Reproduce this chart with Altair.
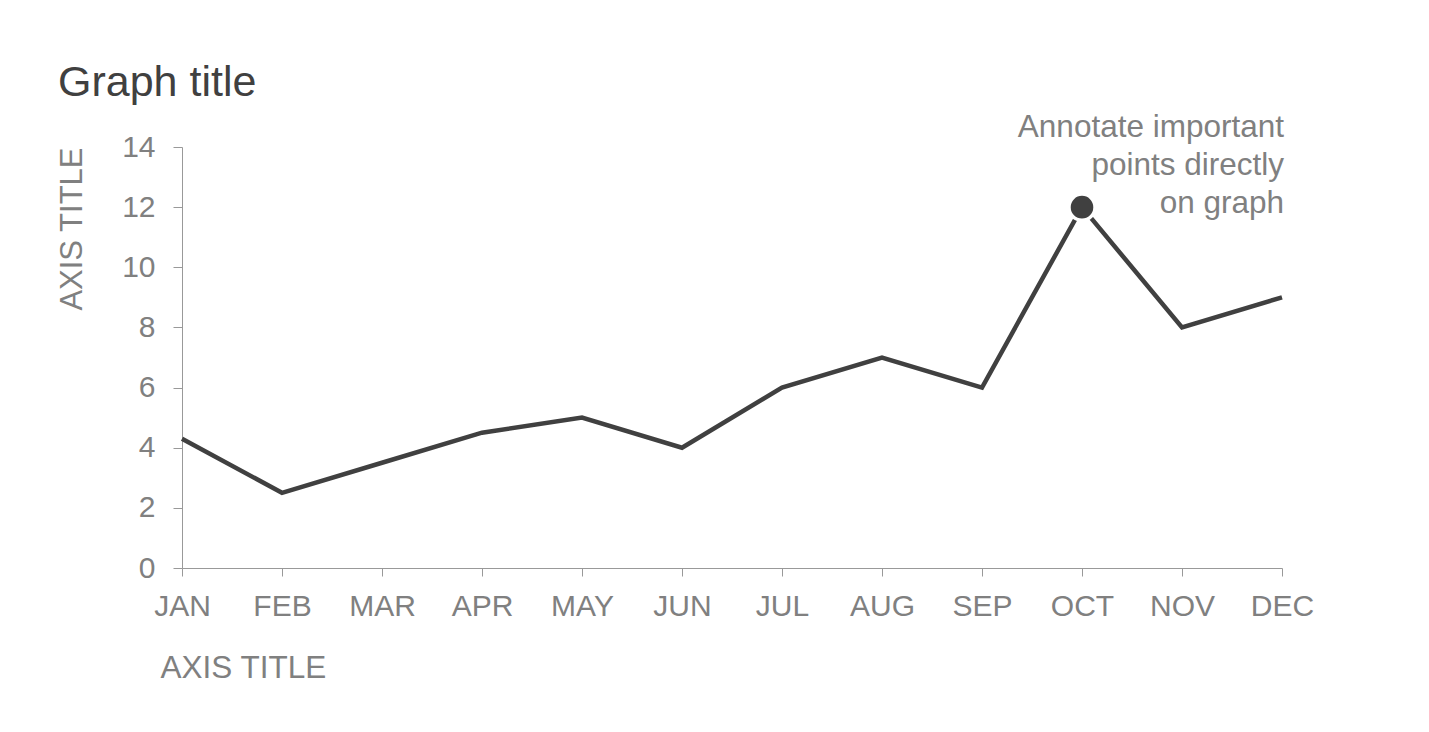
import altair as alt
import pandas as pd

months = ["JAN", "FEB", "MAR", "APR", "MAY", "JUN", "JUL", "AUG", "SEP", "OCT", "NOV", "DEC"]
values = [4.3, 2.5, 3.5, 4.5, 5.0, 4.0, 6.0, 7.0, 6.0, 12.0, 8.0, 9.0]
highlight_month = ["OCT"]
highlight_value = [12.0]
y_ticks = [0, 2, 4, 6, 8, 10, 12, 14]
annotation = ["Annotate important", "points directly", "on graph"]

df = pd.DataFrame({"month": months, "value": values})
hl = pd.DataFrame({"month": highlight_month, "value": highlight_value})

FONT = "Liberation Sans"
GRAY = "#808080"
DARK = "#404040"

x = alt.X("month:O", sort=months, scale=alt.Scale(type="point", padding=0),
          axis=alt.Axis(title="AXIS TITLE", labelAngle=0, labelFontSize=30, labelColor=GRAY,
                        labelFont=FONT, labelPadding=15, tickSize=8, tickColor="#999999",
                        domainColor="#999999", titleFontSize=31.5, titleFont=FONT, titleColor=GRAY,
                        titleFontWeight="normal", titleAnchor="start", titleAlign="left",
                        titleX=-22, titleY=100, titleBaseline="middle", grid=False))
y = alt.Y("value:Q", scale=alt.Scale(domain=[0, 14], nice=False),
          axis=alt.Axis(title="AXIS TITLE", values=y_ticks, labelFontSize=30, labelColor=GRAY,
                        labelFont=FONT, labelPadding=18, tickSize=9, tickColor="#999999",
                        domainColor="#999999", titleFontSize=31, titleFont=FONT, titleColor=GRAY,
                        titleFontWeight="normal", titleAngle=-90, titleX=-110, titleY=0,
                        titleAlign="right", titleBaseline="middle", grid=False))

line = alt.Chart(df).mark_line(color=DARK, strokeWidth=4.5).encode(x=x, y=y)
point = alt.Chart(hl).mark_circle(color=DARK, size=680, opacity=1, stroke="white",
                                  strokeWidth=3.5).encode(x=alt.X("month:O", sort=months), y="value:Q")
note = alt.Chart(pd.DataFrame({"month": ["DEC"], "value": [14.33]})).mark_text(
    text=annotation, align="right", baseline="alphabetic", lineHeight=38, fontSize=31.5,
    font=FONT, color=GRAY, dx=2).encode(x=alt.X("month:O", sort=months), y="value:Q")

chart = alt.layer(line, point, note).properties(
    width=1100, height=421,
    background="white",
    title=alt.TitleParams("Graph title", anchor="start", frame="group", dx=-124, dy=62,
                          fontSize=43, font=FONT, fontWeight="normal", color=DARK,
                          baseline="alphabetic", offset=35),
    autosize=alt.AutoSizeParams(type="none"),
    padding={"left": 174, "top": 139, "right": 139, "bottom": 156},
).configure_view(strokeWidth=0, stroke="transparent")

chart.save("out.html", embed_options={"renderer": "svg", "actions": False})
